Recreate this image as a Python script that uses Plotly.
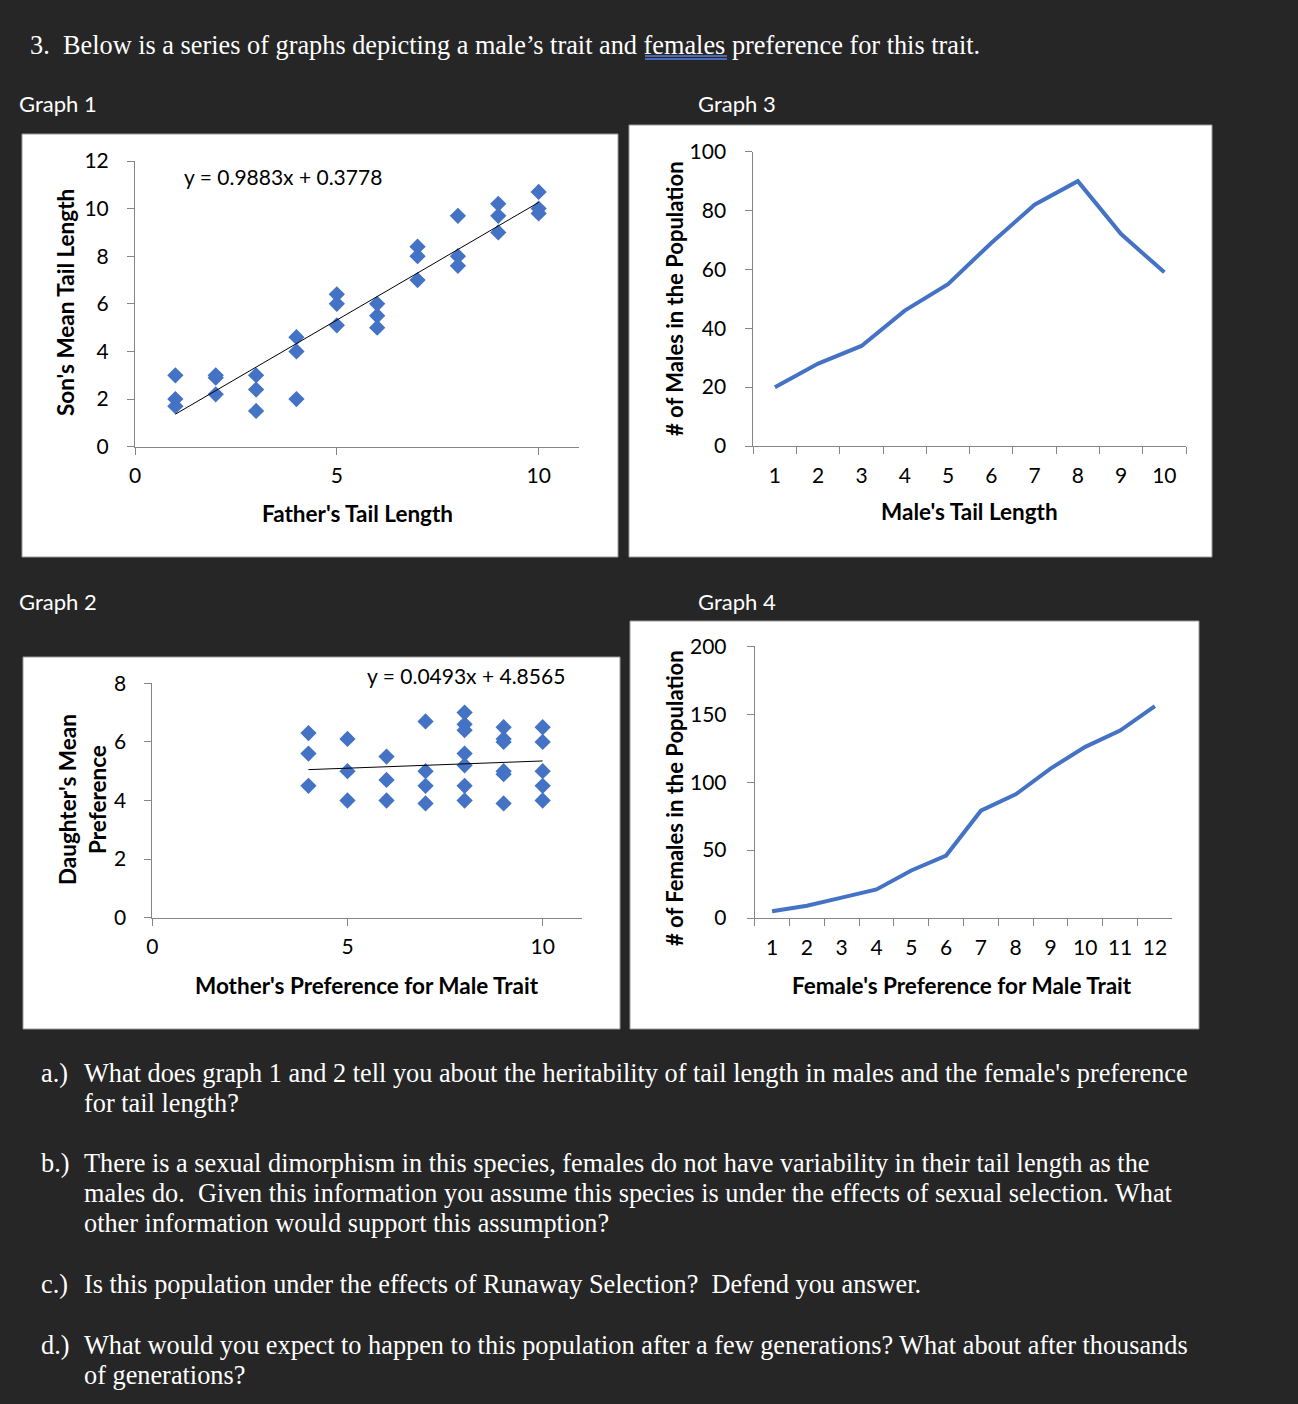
import plotly.graph_objects as go

# ---------------- data ----------------
g1_father = [1, 1, 1, 2, 2, 2, 3, 3, 3, 4, 4, 4, 5, 5, 5, 6, 6, 6, 7, 7, 7, 8, 8, 8, 9, 9, 9, 10, 10, 10]
g1_son = [3.0, 2.0, 1.7, 3.0, 2.9, 2.2, 3.0, 2.4, 1.5, 4.6, 4.0, 2.0, 6.4, 6.0, 5.1, 6.0, 5.5, 5.0,
          8.4, 8.0, 7.0, 9.7, 8.0, 7.6, 10.2, 9.7, 9.0, 10.7, 10.0, 9.8]
g1_trend = [0.9883, 0.3778]

g2_mother = [4, 4, 4, 5, 5, 5, 6, 6, 6, 7, 7, 7, 7, 8, 8, 8, 8, 8, 8, 8, 9, 9, 9, 9, 9, 9, 10, 10, 10, 10, 10]
g2_daughter = [6.3, 5.6, 4.5, 6.1, 5.0, 4.0, 5.5, 4.7, 4.0, 6.7, 5.0, 4.5, 3.9,
               7.0, 6.6, 6.4, 5.6, 5.2, 4.5, 4.0, 6.5, 6.1, 6.0, 5.0, 4.9, 3.9,
               6.5, 6.0, 5.0, 4.5, 4.0]
g2_trend = [0.0493, 4.8565]

g3_tail = ["1", "2", "3", "4", "5", "6", "7", "8", "9", "10"]
g3_males = [20, 28, 34, 46, 55, 69, 82, 90, 72, 59]

g4_pref = ["1", "2", "3", "4", "5", "6", "7", "8", "9", "10", "11", "12"]
g4_females = [5, 9, 15, 21, 35, 46, 79, 91, 110, 126, 138, 156]

title_num = "3."
title_text = "Below is a series of graphs depicting a male’s trait and females preference for this trait."
questions = [
    ("a.)", ["What does graph 1 and 2 tell you about the heritability of tail length in males and the female's preference",
             "for tail length?"]),
    ("b.)", ["There is a sexual dimorphism in this species, females do not have variability in their tail length as the",
             "males do.  Given this information you assume this species is under the effects of sexual selection. What",
             "other information would support this assumption?"]),
    ("c.)", ["Is this population under the effects of Runaway Selection?  Defend you answer."]),
    ("d.)", ["What would you expect to happen to this population after a few generations? What about after thousands",
             "of generations?"]),
]

# ---------------- layout helpers ----------------
W, H = 1298, 1404
BG = "#262626"
BLUE = "#4472C4"
AX = "#868686"
SANS = "Lato"
SERIF = "Liberation Serif"
TXT = 26.3


def px(x):
    return x / W


def py(y):
    return 1 - y / H


fig = go.Figure()

# Graph 1 scatter
fig.add_trace(go.Scatter(x=g1_father, y=g1_son, mode="markers",
                         marker=dict(symbol="diamond", size=12.5, color=BLUE),
                         xaxis="x", yaxis="y", showlegend=False))
x0, x1 = min(g1_father), max(g1_father)
fig.add_trace(go.Scatter(x=[x0, x1], y=[g1_trend[0] * x0 + g1_trend[1], g1_trend[0] * x1 + g1_trend[1]],
                         mode="lines", line=dict(color="black", width=1),
                         xaxis="x", yaxis="y", showlegend=False))

# Graph 2 scatter
fig.add_trace(go.Scatter(x=g2_mother, y=g2_daughter, mode="markers",
                         marker=dict(symbol="diamond", size=12.5, color=BLUE),
                         xaxis="x3", yaxis="y3", showlegend=False))
x0, x1 = min(g2_mother), max(g2_mother)
fig.add_trace(go.Scatter(x=[x0, x1], y=[g2_trend[0] * x0 + g2_trend[1], g2_trend[0] * x1 + g2_trend[1]],
                         mode="lines", line=dict(color="black", width=1),
                         xaxis="x3", yaxis="y3", showlegend=False))

# Graph 3 line
fig.add_trace(go.Scatter(x=g3_tail, y=g3_males, mode="lines",
                         line=dict(color=BLUE, width=4),
                         xaxis="x2", yaxis="y2", showlegend=False))

# Graph 4 line
fig.add_trace(go.Scatter(x=g4_pref, y=g4_females, mode="lines",
                         line=dict(color=BLUE, width=4),
                         xaxis="x4", yaxis="y4", showlegend=False))


def axis(**kw):
    d = dict(showline=True, linecolor=AX, linewidth=1, ticks="outside", ticklen=7,
             tickcolor=AX, tickwidth=1, showgrid=False, zeroline=False, automargin=False,
             tickfont=dict(family=SANS, size=21, color="black"), fixedrange=True)
    d.update(kw)
    return d


fig.update_layout(
    width=W, height=H, autosize=False,
    margin=dict(l=0, r=0, t=0, b=0, pad=0, autoexpand=False),
    paper_bgcolor=BG, plot_bgcolor="white",
    showlegend=False,
    # Graph 1
    xaxis=axis(domain=[px(135), px(579)], range=[0, 11], tickvals=[0, 5, 10],
               anchor="y", ticklabelstandoff=3),
    yaxis=axis(domain=[py(446.7), py(161)], range=[0, 12], tickvals=[0, 2, 4, 6, 8, 10, 12],
               anchor="x", ticklabelstandoff=14),
    # Graph 3
    xaxis2=axis(domain=[px(753.3), px(1186)], type="category", tickson="boundaries",
                range=[-0.5, len(g3_tail) - 0.5], anchor="y2", ticklabelstandoff=11),
    yaxis2=axis(domain=[py(446), py(151.7)], range=[0, 100], tickvals=[0, 20, 40, 60, 80, 100],
                anchor="x2", ticklabelstandoff=15),
    # Graph 2
    xaxis3=axis(domain=[px(152.3), px(581.7)], range=[0, 11], tickvals=[0, 5, 10],
                anchor="y3", ticklabelstandoff=3),
    yaxis3=axis(domain=[py(917.7), py(683.3)], range=[0, 8], tickvals=[0, 2, 4, 6, 8],
                anchor="x3", ticklabelstandoff=14),
    # Graph 4
    xaxis4=axis(domain=[px(754.7), px(1172.3)], type="category", tickson="boundaries",
                range=[-0.5, len(g4_pref) - 0.5], anchor="y4", ticklabelstandoff=11),
    yaxis4=axis(domain=[py(918), py(646.3)], range=[0, 200], tickvals=[0, 50, 100, 150, 200],
                anchor="x4", ticklabelstandoff=16),
)

# white chart panels
panels = [(22, 134, 618, 557), (629, 125, 1212, 557), (23, 657, 620, 1029), (630, 621, 1199, 1029)]
for (l, t, r, b) in panels:
    fig.add_shape(type="rect", xref="paper", yref="paper",
                  x0=px(l), x1=px(r), y0=py(b), y1=py(t),
                  fillcolor="white", line=dict(color="#9a9a9a", width=1), layer="below")

ann = []


def text(x, y, s, size=20, color="black", family=SANS, xanchor="center", angle=0, bold=False):
    if bold:
        s = "<b>" + s + "</b>"
    ann.append(dict(x=px(x), y=py(y), xref="paper", yref="paper", text=s, showarrow=False,
                    xanchor=xanchor, yanchor="middle", textangle=angle, borderpad=0,
                    font=dict(family=family, size=size, color=color)))


# chart texts
text(283, 176, "y = 0.9883x + 0.3778", size=21)
text(466, 675, "y = 0.0493x + 4.8565", size=21)
text(357, 513, "Father's Tail Length", size=22.5, bold=True)
text(65, 303, "Son's Mean Tail Length", size=22.5, bold=True, angle=-90)
text(969, 512, "Male's Tail Length", size=22.5, bold=True)
text(674, 299, "# of Males in the Population", size=22, bold=True, angle=-90)
text(367, 985, "Mother's Preference for Male Trait", size=22.5, bold=True)
text(67, 800, "Daughter's Mean", size=22.5, bold=True, angle=-90)
text(97, 800, "Preference", size=22.5, bold=True, angle=-90)
text(962, 985, "Female's Preference for Male Trait", size=22.5, bold=True)
text(674, 798, "# of Females in the Population", size=22, bold=True, angle=-90)

# graph labels
for (x, y, s) in [(18, 103, "Graph 1"), (697, 103, "Graph 3"), (18, 602, "Graph 2"), (697, 602, "Graph 4")]:
    text(x, y, s, size=22, color="white", xanchor="left")

# title and questions
text(29, 46, title_num, size=TXT, color="white", family=SERIF, xanchor="left")
text(62, 46, title_text, size=TXT, color="white", family=SERIF, xanchor="left")

q_rows = [[1073, 1103], [1163, 1193, 1223], [1284], [1345, 1375]]
for (label, lines), ys in zip(questions, q_rows):
    text(40, ys[0], label, size=TXT, color="white", family=SERIF, xanchor="left")
    for line, y in zip(lines, ys):
        text(83, y, line, size=TXT, color="white", family=SERIF, xanchor="left")

fig.update_layout(annotations=ann)

# double underline under "females"
for y in (56, 59):
    fig.add_shape(type="line", xref="paper", yref="paper", x0=px(645), x1=px(727), y0=py(y), y1=py(y),
                  line=dict(color="#5a80e8", width=1.5))

fig.write_html("out.html",
               config={"displayModeBar": False},
               post_script="document.documentElement.style.margin='0';document.body.style.margin='0';"
                           "document.body.style.padding='0';document.documentElement.style.overflow='hidden';"
                           "document.body.style.overflow='hidden';"
                           "document.body.style.background='#262626';")
